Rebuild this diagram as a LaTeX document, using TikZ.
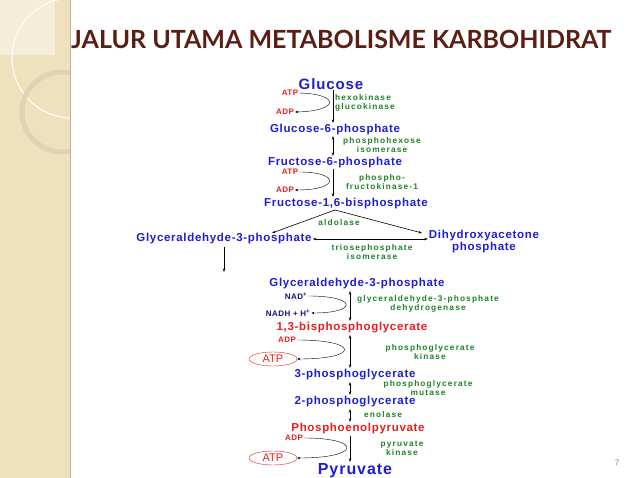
\documentclass[tikz,border=0pt]{standalone}
\usepackage{fontspec}
\setmainfont{Liberation Sans}
\newfontfamily\titlefont{Lato}
\newfontfamily\wide[LetterSpace=6]{Liberation Sans}
\newfontfamily\wider[LetterSpace=14]{Liberation Sans}
\usetikzlibrary{arrows.meta,shapes.geometric}
\definecolor{mblue}{RGB}{30,30,210}
\definecolor{mgreen}{RGB}{30,130,40}
\definecolor{mred}{RGB}{230,30,30}
\definecolor{beige}{RGB}{240,225,190}
\definecolor{tbrown}{RGB}{90,30,20}
\begin{document}
\begin{tikzpicture}[x=1pt,y=-1pt,
  met/.style={font=\wide\bfseries\fontsize{11.5}{12.5}\selectfont,text=mblue,inner sep=1pt},
  metr/.style={met,text=mred},
  enz/.style={font=\wider\bfseries\fontsize{8.3}{9}\selectfont,text=mgreen,align=center,inner sep=1pt},
  cof/.style={font=\wide\bfseries\fontsize{8}{9}\selectfont,text=mred,inner sep=1pt},
  cofb/.style={cof,text=mblue!60!black},
  atpe/.style={cof,draw=mred,ellipse,thin,inner sep=0.5pt,minimum width=48pt,minimum height=14pt,font=\fontsize{11}{12}\selectfont},
  ar/.style={-{Stealth[length=3.5pt,width=2.5pt]},semithick},
  dar/.style={{Stealth[length=3.5pt,width=2.5pt]}-{Stealth[length=3.5pt,width=2.5pt]},semithick},
  side/.style={-{Stealth[length=3pt,width=2.5pt]},thin}]
\useasboundingbox (0,0) rectangle (638,478);
\fill[white] (0,0) rectangle (638,478);
\fill[beige] (0,0) rectangle (70,478);
\fill[beige!60!white] (0,0) rectangle (55,55);
\begin{scope}
\clip (0,0) rectangle (70,478);
\draw[white!85!beige,line width=1.2pt] (72,58) circle (60);
\draw[beige!85!gray,line width=5pt] (62,112) circle (40);
\end{scope}
\draw[beige!80!black,very thin] (70,0) -- (70,478);
\node[font=\titlefont\bfseries\fontsize{25}{27}\selectfont,text=tbrown,anchor=west,inner sep=0] (title) at (71,39) {JALUR UTAMA METABOLISME KARBOHIDRAT};
% upper
\node[met,font=\wide\bfseries\fontsize{15}{16}\selectfont] (glc) at (331,84) {Glucose};
\node[met] (g6p) at (335,130) {Glucose-6-phosphate};
\node[met] (f6p) at (335,163) {Fructose-6-phosphate};
\node[met] (fbp) at (346,204) {Fructose-1,6-bisphosphate};
\node[met] (gap) at (224,239) {Glyceraldehyde-3-phosphate};
\node[met,align=center,font=\wide\bfseries\fontsize{11.5}{12}\selectfont] (dhap) at (484,242) {Dihydroxyacetone\\phosphate};
\node[enz,anchor=west,align=left] (e1) at (334,103) {hexokinase\\glucokinase};
\node[enz] (e2) at (382,145) {phosphohexose\\isomerase};
\node[enz] (e3) at (382,182) {phospho-\\fructokinase-1};
\node[enz] (e4) at (339,223) {aldolase};
\node[enz] (e5) at (372,252) {triosephosphate\\isomerase};
\node[cof] (atp1) at (290,93) {ATP};
\node[cof] (adp1) at (285,112) {ADP};
\node[cof] (atp2) at (290,172) {ATP};
\node[cof] (adp2) at (285,190) {ADP};
\draw[ar] (333,90) -- (333,123);
\draw[dar] (333,136) -- (333,156);
\draw[ar] (333,169) -- (333,197);
\draw[side] (atp1.east) .. controls (340,94) and (340,111) .. (adp1.east);
\draw[side] (atp2.east) .. controls (340,172) and (340,190) .. (adp2.east);
\coordinate (split) at (335,210);
\coordinate (gapend) at (272,233);
\coordinate (dhapend) at (422,233);
\draw[ar] (split) -- (gapend);
\draw[ar] (split) -- (dhapend);
\draw[dar] (gap.east) -- (dhap.west |- gap.east);
\coordinate (gd) at (224,272);
\draw[ar] (224,247) -- (gd);
% lower
\node[met] (gap2) at (357,284) {Glyceraldehyde-3-phosphate};
\node[metr] (bpg) at (352,328) {1,3-bisphosphoglycerate};
\node[met] (pg3) at (355,375) {3-phosphoglycerate};
\node[met] (pg2) at (355,402) {2-phosphoglycerate};
\node[metr] (pep) at (358,429) {Phosphoenolpyruvate};
\node[met,font=\wide\bfseries\fontsize{16}{17}\selectfont] (pyr) at (355,471) {Pyruvate};
\node[enz] (e6) at (428,304) {glyceraldehyde-3-phosphate\\dehydrogenase};
\node[enz] (e7) at (430,352) {phosphoglycerate\\kinase};
\node[enz] (e8) at (428,388) {phosphoglycerate\\mutase};
\node[enz] (e9) at (383,415) {enolase};
\node[enz] (e10) at (402,448) {pyruvate\\kinase};
\node[cofb] (nad) at (296,296) {NAD\textsuperscript{+}};
\node[cofb] (nadh) at (288,313) {NADH + H\textsuperscript{+}};
\node[cof] (adp3) at (287,340) {ADP};
\node[atpe] (atp3) at (273,359) {ATP};
\node[cof] (adp4) at (294,438) {ADP};
\node[atpe] (atp4) at (273,458) {ATP};
\draw[dar] (350,291) -- (350,321);
\draw[dar] (350,335) -- (350,368);
\draw[dar] (350,382) -- (350,395);
\draw[dar] (350,409) -- (350,422);
\draw[ar] (350,436) -- (350,462);
\draw[side] (nad.east) .. controls (358,296) and (358,313) .. (nadh.east);
\draw[side] (adp3.east) .. controls (360,340) and (360,359) .. (atp3.east);
\draw[side] (adp4.east) .. controls (362,438) and (362,458) .. (atp4.east);
\node[font=\fontsize{8}{9}\selectfont,text=gray] (pg) at (617,463) {7};
\end{tikzpicture}
\end{document}
